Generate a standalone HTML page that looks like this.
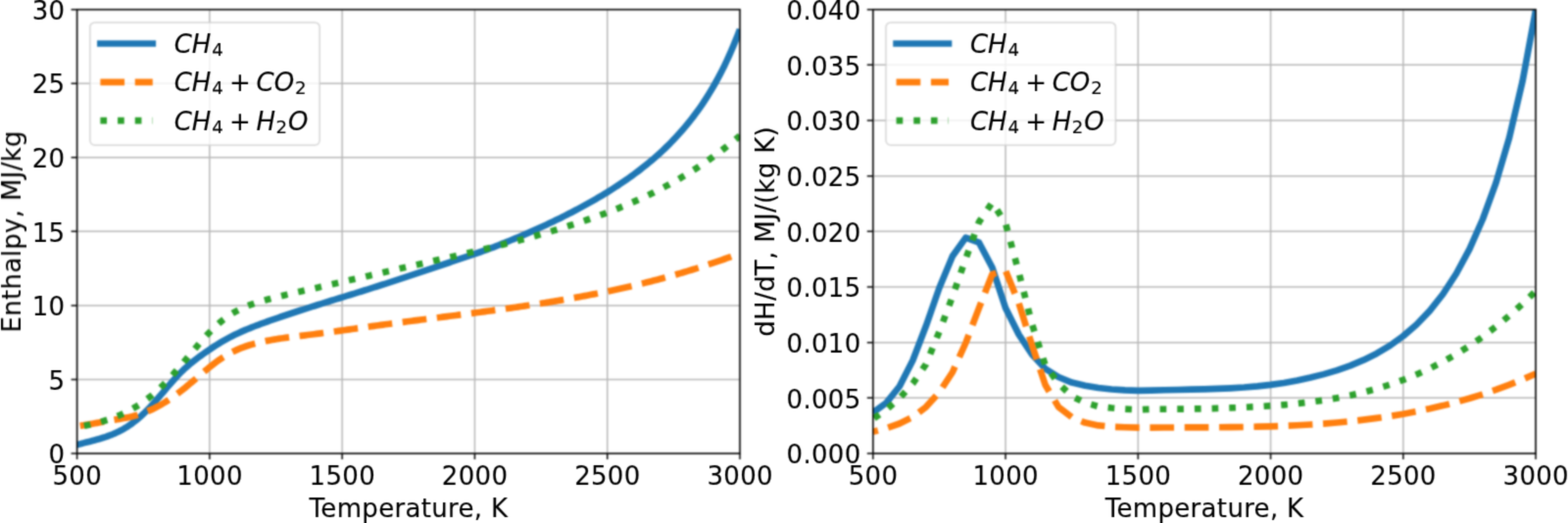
<!DOCTYPE html>
<html lang="en"><head><meta charset="utf-8"><title>Enthalpy and dH/dT versus temperature</title>
<style>
html,body{margin:0;padding:0;background:#fff;}
body{width:1600px;height:534px;overflow:hidden;}
svg{display:block;}
text{font-family:"DejaVu Sans","Liberation Sans",sans-serif;fill:#000;stroke:#000;stroke-width:0.1px;font-size:26.0px;letter-spacing:0.32px;}
.lg{font-style:italic;letter-spacing:0;}
</style></head><body>
<svg width="1600" height="534" viewBox="0 0 1600 534">
<defs>
<filter id="bl" x="0" y="0" width="1600" height="534" filterUnits="userSpaceOnUse" color-interpolation-filters="sRGB"><feConvolveMatrix order="5" kernelMatrix="0.00087 0.00695 0.01388 0.00695 0.00087 0.00695 0.05540 0.11068 0.05540 0.00695 0.01388 0.11068 0.22111 0.11068 0.01388 0.00695 0.05540 0.11068 0.05540 0.00695 0.00087 0.00695 0.01388 0.00695 0.00087" edgeMode="duplicate" preserveAlpha="true"/></filter>
<filter id="bt" x="0" y="0" width="1600" height="534" filterUnits="userSpaceOnUse" color-interpolation-filters="sRGB"><feConvolveMatrix order="3" kernelMatrix="0.02768 0.11101 0.02768 0.11101 0.44521 0.11101 0.02768 0.11101 0.02768" edgeMode="duplicate" preserveAlpha="false"/></filter>
</defs>
<rect width="1600" height="534" fill="#fff"/>
<g filter="url(#bl)">
<rect width="1600" height="534" fill="#fff"/>
<g>
<clipPath id="cp0"><rect x="78.6" y="9.7" width="676.40" height="453.30"/></clipPath>
<path d="M78.60,463.0 V9.7 M213.88,463.0 V9.7 M349.16,463.0 V9.7 M484.44,463.0 V9.7 M619.72,463.0 V9.7 M755.00,463.0 V9.7 M78.6,463.00 H755.0 M78.6,387.45 H755.0 M78.6,311.90 H755.0 M78.6,236.35 H755.0 M78.6,160.80 H755.0 M78.6,85.25 H755.0 M78.6,9.70 H755.0" stroke="#b8b8b8" stroke-width="1.5" fill="none"/>
<g clip-path="url(#cp0)" fill="none" stroke-width="6.67">
<path d="M78.40,454.24 L80.66,453.61 L82.93,453.00 L85.19,452.40 L87.45,451.82 L89.71,451.23 L91.98,450.65 L94.24,450.06 L96.50,449.45 L98.77,448.83 L101.03,448.18 L103.29,447.51 L105.55,446.80 L107.82,446.06 L110.08,445.27 L112.34,444.43 L114.61,443.54 L116.87,442.58 L119.13,441.57 L121.39,440.48 L123.66,439.32 L125.92,438.07 L128.18,436.74 L130.45,435.32 L132.71,433.81 L134.97,432.19 L137.23,430.47 L139.50,428.64 L141.76,426.70 L144.02,424.68 L146.29,422.56 L148.55,420.35 L150.81,418.06 L153.07,415.68 L155.34,413.23 L157.60,410.72 L159.86,408.15 L162.13,405.53 L164.39,402.89 L166.65,400.24 L168.92,397.58 L171.18,394.93 L173.44,392.30 L175.70,389.72 L177.97,387.18 L180.23,384.70 L182.49,382.30 L184.76,379.99 L187.02,377.78 L189.28,375.67 L191.54,373.66 L193.81,371.72 L196.07,369.86 L198.33,368.07 L200.60,366.33 L202.86,364.63 L205.12,362.97 L207.38,361.34 L209.65,359.74 L211.91,358.17 L214.17,356.64 L216.44,355.14 L218.70,353.67 L220.96,352.23 L223.22,350.84 L225.49,349.47 L227.75,348.15 L230.01,346.86 L232.28,345.61 L234.54,344.40 L236.80,343.23 L239.06,342.10 L241.33,341.00 L243.59,339.93 L245.85,338.90 L248.12,337.90 L250.38,336.92 L252.64,335.97 L254.90,335.05 L257.17,334.14 L259.43,333.26 L261.69,332.39 L263.96,331.54 L266.22,330.70 L268.48,329.87 L270.74,329.06 L273.01,328.25 L275.27,327.44 L277.53,326.65 L279.80,325.86 L282.06,325.07 L284.32,324.29 L286.58,323.52 L288.85,322.75 L291.11,321.99 L293.37,321.23 L295.64,320.48 L297.90,319.73 L300.16,318.99 L302.42,318.25 L304.69,317.51 L306.95,316.78 L309.21,316.05 L311.48,315.32 L313.74,314.60 L316.00,313.88 L318.26,313.16 L320.53,312.45 L322.79,311.74 L325.05,311.03 L327.32,310.32 L329.58,309.62 L331.84,308.91 L334.11,308.21 L336.37,307.51 L338.63,306.81 L340.89,306.11 L343.16,305.41 L345.42,304.71 L347.68,304.01 L349.95,303.32 L352.21,302.62 L354.47,301.92 L356.73,301.22 L359.00,300.52 L361.26,299.82 L363.52,299.12 L365.79,298.41 L368.05,297.71 L370.31,297.00 L372.57,296.30 L374.84,295.58 L377.10,294.87 L379.36,294.16 L381.63,293.44 L383.89,292.72 L386.15,292.00 L388.41,291.27 L390.68,290.55 L392.94,289.82 L395.20,289.08 L397.47,288.35 L399.73,287.62 L401.99,286.88 L404.25,286.14 L406.52,285.40 L408.78,284.66 L411.04,283.91 L413.31,283.16 L415.57,282.42 L417.83,281.67 L420.09,280.92 L422.36,280.16 L424.62,279.41 L426.88,278.65 L429.15,277.90 L431.41,277.14 L433.67,276.38 L435.93,275.62 L438.20,274.86 L440.46,274.10 L442.72,273.33 L444.99,272.57 L447.25,271.80 L449.51,271.04 L451.77,270.27 L454.04,269.50 L456.30,268.74 L458.56,267.97 L460.83,267.20 L463.09,266.43 L465.35,265.67 L467.61,264.90 L469.88,264.14 L472.14,263.38 L474.40,262.62 L476.67,261.86 L478.93,261.10 L481.19,260.34 L483.45,259.57 L485.72,258.80 L487.98,258.02 L490.24,257.23 L492.51,256.43 L494.77,255.62 L497.03,254.80 L499.29,253.96 L501.56,253.12 L503.82,252.26 L506.08,251.39 L508.35,250.50 L510.61,249.61 L512.87,248.71 L515.14,247.80 L517.40,246.89 L519.66,245.97 L521.92,245.04 L524.19,244.11 L526.45,243.17 L528.71,242.23 L530.98,241.27 L533.24,240.31 L535.50,239.33 L537.76,238.35 L540.03,237.37 L542.29,236.37 L544.55,235.37 L546.82,234.35 L549.08,233.33 L551.34,232.30 L553.60,231.27 L555.87,230.22 L558.13,229.16 L560.39,228.10 L562.66,227.03 L564.92,225.94 L567.18,224.85 L569.44,223.75 L571.71,222.64 L573.97,221.52 L576.23,220.38 L578.50,219.24 L580.76,218.09 L583.02,216.92 L585.28,215.75 L587.55,214.56 L589.81,213.36 L592.07,212.15 L594.34,210.93 L596.60,209.69 L598.86,208.44 L601.12,207.18 L603.39,205.91 L605.65,204.62 L607.91,203.31 L610.18,201.99 L612.44,200.65 L614.70,199.30 L616.96,197.93 L619.23,196.55 L621.49,195.14 L623.75,193.72 L626.02,192.28 L628.28,190.82 L630.54,189.34 L632.80,187.84 L635.07,186.32 L637.33,184.77 L639.59,183.20 L641.86,181.61 L644.12,179.99 L646.38,178.35 L648.64,176.67 L650.91,174.98 L653.17,173.25 L655.43,171.49 L657.70,169.70 L659.96,167.88 L662.22,166.02 L664.48,164.13 L666.75,162.20 L669.01,160.24 L671.27,158.23 L673.54,156.19 L675.80,154.10 L678.06,151.96 L680.33,149.78 L682.59,147.55 L684.85,145.27 L687.11,142.94 L689.38,140.55 L691.64,138.10 L693.90,135.60 L696.17,133.02 L698.43,130.39 L700.69,127.68 L702.95,124.91 L705.22,122.05 L707.48,119.12 L709.74,116.10 L712.01,113.00 L714.27,109.81 L716.53,106.52 L718.79,103.13 L721.06,99.63 L723.32,96.02 L725.58,92.30 L727.85,88.46 L730.11,84.48 L732.37,80.37 L734.63,76.12 L736.90,71.72 L739.16,67.15 L741.42,62.42 L743.69,57.52 L745.95,52.43 L748.21,47.14 L750.47,41.64 L752.74,35.92 L755.00,29.97" stroke="#1f77b4" stroke-linejoin="round"/>
<path d="M78.40,435.30 L80.66,434.97 L82.93,434.62 L85.19,434.26 L87.45,433.89 L89.71,433.50 L91.98,433.11 L94.24,432.71 L96.50,432.30 L98.77,431.89 L101.03,431.48 L103.29,431.07 L105.55,430.65 L107.82,430.24 L110.08,429.83 L112.34,429.43 L114.61,429.03 L116.87,428.64 L119.13,428.25 L121.39,427.87 L123.66,427.48 L125.92,427.07 L128.18,426.64 L130.45,426.19 L132.71,425.70 L134.97,425.17 L137.23,424.59 L139.50,423.96 L141.76,423.27 L144.02,422.52 L146.29,421.70 L148.55,420.83 L150.81,419.90 L153.07,418.90 L155.34,417.85 L157.60,416.75 L159.86,415.58 L162.13,414.36 L164.39,413.08 L166.65,411.75 L168.92,410.36 L171.18,408.92 L173.44,407.43 L175.70,405.88 L177.97,404.28 L180.23,402.63 L182.49,400.93 L184.76,399.18 L187.02,397.39 L189.28,395.56 L191.54,393.70 L193.81,391.81 L196.07,389.91 L198.33,387.99 L200.60,386.06 L202.86,384.14 L205.12,382.22 L207.38,380.30 L209.65,378.41 L211.91,376.54 L214.17,374.70 L216.44,372.90 L218.70,371.14 L220.96,369.44 L223.22,367.80 L225.49,366.23 L227.75,364.73 L230.01,363.31 L232.28,361.98 L234.54,360.72 L236.80,359.53 L239.06,358.41 L241.33,357.36 L243.59,356.37 L245.85,355.45 L248.12,354.58 L250.38,353.76 L252.64,353.00 L254.90,352.28 L257.17,351.61 L259.43,350.98 L261.69,350.39 L263.96,349.83 L266.22,349.30 L268.48,348.80 L270.74,348.33 L273.01,347.88 L275.27,347.45 L277.53,347.04 L279.80,346.65 L282.06,346.27 L284.32,345.91 L286.58,345.56 L288.85,345.23 L291.11,344.90 L293.37,344.59 L295.64,344.29 L297.90,343.99 L300.16,343.71 L302.42,343.42 L304.69,343.14 L306.95,342.87 L309.21,342.59 L311.48,342.32 L313.74,342.05 L316.00,341.77 L318.26,341.49 L320.53,341.20 L322.79,340.92 L325.05,340.63 L327.32,340.33 L329.58,340.04 L331.84,339.74 L334.11,339.44 L336.37,339.13 L338.63,338.83 L340.89,338.52 L343.16,338.21 L345.42,337.90 L347.68,337.59 L349.95,337.28 L352.21,336.96 L354.47,336.65 L356.73,336.33 L359.00,336.01 L361.26,335.69 L363.52,335.38 L365.79,335.06 L368.05,334.74 L370.31,334.42 L372.57,334.11 L374.84,333.79 L377.10,333.47 L379.36,333.16 L381.63,332.85 L383.89,332.53 L386.15,332.22 L388.41,331.91 L390.68,331.60 L392.94,331.30 L395.20,330.99 L397.47,330.69 L399.73,330.39 L401.99,330.09 L404.25,329.79 L406.52,329.49 L408.78,329.19 L411.04,328.90 L413.31,328.60 L415.57,328.31 L417.83,328.01 L420.09,327.72 L422.36,327.43 L424.62,327.14 L426.88,326.85 L429.15,326.56 L431.41,326.27 L433.67,325.98 L435.93,325.69 L438.20,325.40 L440.46,325.12 L442.72,324.83 L444.99,324.54 L447.25,324.25 L449.51,323.97 L451.77,323.68 L454.04,323.39 L456.30,323.10 L458.56,322.81 L460.83,322.52 L463.09,322.24 L465.35,321.95 L467.61,321.66 L469.88,321.36 L472.14,321.07 L474.40,320.78 L476.67,320.49 L478.93,320.19 L481.19,319.90 L483.45,319.60 L485.72,319.31 L487.98,319.01 L490.24,318.71 L492.51,318.41 L494.77,318.11 L497.03,317.80 L499.29,317.50 L501.56,317.19 L503.82,316.88 L506.08,316.57 L508.35,316.26 L510.61,315.95 L512.87,315.64 L515.14,315.32 L517.40,315.00 L519.66,314.68 L521.92,314.36 L524.19,314.03 L526.45,313.71 L528.71,313.38 L530.98,313.04 L533.24,312.71 L535.50,312.37 L537.76,312.03 L540.03,311.69 L542.29,311.35 L544.55,311.00 L546.82,310.65 L549.08,310.30 L551.34,309.94 L553.60,309.58 L555.87,309.22 L558.13,308.86 L560.39,308.49 L562.66,308.12 L564.92,307.74 L567.18,307.37 L569.44,306.99 L571.71,306.60 L573.97,306.21 L576.23,305.82 L578.50,305.43 L580.76,305.03 L583.02,304.63 L585.28,304.22 L587.55,303.81 L589.81,303.40 L592.07,302.98 L594.34,302.56 L596.60,302.13 L598.86,301.70 L601.12,301.27 L603.39,300.83 L605.65,300.39 L607.91,299.94 L610.18,299.49 L612.44,299.03 L614.70,298.57 L616.96,298.11 L619.23,297.64 L621.49,297.16 L623.75,296.68 L626.02,296.20 L628.28,295.71 L630.54,295.21 L632.80,294.72 L635.07,294.21 L637.33,293.70 L639.59,293.19 L641.86,292.67 L644.12,292.14 L646.38,291.61 L648.64,291.08 L650.91,290.54 L653.17,289.99 L655.43,289.44 L657.70,288.88 L659.96,288.31 L662.22,287.74 L664.48,287.17 L666.75,286.59 L669.01,286.00 L671.27,285.41 L673.54,284.81 L675.80,284.20 L678.06,283.59 L680.33,282.97 L682.59,282.35 L684.85,281.71 L687.11,281.08 L689.38,280.43 L691.64,279.78 L693.90,279.13 L696.17,278.46 L698.43,277.79 L700.69,277.11 L702.95,276.43 L705.22,275.74 L707.48,275.04 L709.74,274.34 L712.01,273.62 L714.27,272.90 L716.53,272.18 L718.79,271.44 L721.06,270.70 L723.32,269.95 L725.58,269.20 L727.85,268.43 L730.11,267.66 L732.37,266.88 L734.63,266.10 L736.90,265.30 L739.16,264.50 L741.42,263.69 L743.69,262.87 L745.95,262.05 L748.21,261.21 L750.47,260.37 L752.74,259.52 L755.00,258.66" stroke="#ff7f0e" stroke-linejoin="round" stroke-dasharray="24.68 10.67" stroke-dashoffset="32.0"/>
<path d="M78.40,436.14 L80.66,435.73 L82.93,435.32 L85.19,434.88 L87.45,434.43 L89.71,433.96 L91.98,433.47 L94.24,432.95 L96.50,432.41 L98.77,431.83 L101.03,431.23 L103.29,430.60 L105.55,429.94 L107.82,429.24 L110.08,428.51 L112.34,427.73 L114.61,426.92 L116.87,426.07 L119.13,425.17 L121.39,424.22 L123.66,423.23 L125.92,422.19 L128.18,421.10 L130.45,419.96 L132.71,418.76 L134.97,417.51 L137.23,416.20 L139.50,414.82 L141.76,413.39 L144.02,411.89 L146.29,410.33 L148.55,408.70 L150.81,407.00 L153.07,405.24 L155.34,403.39 L157.60,401.48 L159.86,399.49 L162.13,397.42 L164.39,395.27 L166.65,393.04 L168.92,390.73 L171.18,388.35 L173.44,385.90 L175.70,383.39 L177.97,380.83 L180.23,378.23 L182.49,375.60 L184.76,372.93 L187.02,370.24 L189.28,367.54 L191.54,364.83 L193.81,362.12 L196.07,359.42 L198.33,356.74 L200.60,354.07 L202.86,351.44 L205.12,348.84 L207.38,346.29 L209.65,343.79 L211.91,341.34 L214.17,338.97 L216.44,336.67 L218.70,334.45 L220.96,332.31 L223.22,330.27 L225.49,328.34 L227.75,326.51 L230.01,324.79 L232.28,323.17 L234.54,321.65 L236.80,320.21 L239.06,318.87 L241.33,317.60 L243.59,316.42 L245.85,315.30 L248.12,314.25 L250.38,313.27 L252.64,312.34 L254.90,311.46 L257.17,310.64 L259.43,309.85 L261.69,309.11 L263.96,308.40 L266.22,307.72 L268.48,307.06 L270.74,306.42 L273.01,305.80 L275.27,305.19 L277.53,304.59 L279.80,304.00 L282.06,303.42 L284.32,302.84 L286.58,302.28 L288.85,301.72 L291.11,301.17 L293.37,300.62 L295.64,300.09 L297.90,299.55 L300.16,299.02 L302.42,298.50 L304.69,297.98 L306.95,297.46 L309.21,296.95 L311.48,296.43 L313.74,295.92 L316.00,295.41 L318.26,294.90 L320.53,294.40 L322.79,293.89 L325.05,293.38 L327.32,292.86 L329.58,292.35 L331.84,291.84 L334.11,291.32 L336.37,290.81 L338.63,290.29 L340.89,289.77 L343.16,289.25 L345.42,288.73 L347.68,288.21 L349.95,287.69 L352.21,287.17 L354.47,286.64 L356.73,286.12 L359.00,285.60 L361.26,285.07 L363.52,284.55 L365.79,284.02 L368.05,283.50 L370.31,282.97 L372.57,282.45 L374.84,281.92 L377.10,281.40 L379.36,280.87 L381.63,280.35 L383.89,279.82 L386.15,279.30 L388.41,278.77 L390.68,278.25 L392.94,277.72 L395.20,277.20 L397.47,276.68 L399.73,276.16 L401.99,275.63 L404.25,275.11 L406.52,274.59 L408.78,274.07 L411.04,273.56 L413.31,273.04 L415.57,272.52 L417.83,272.01 L420.09,271.49 L422.36,270.98 L424.62,270.47 L426.88,269.95 L429.15,269.44 L431.41,268.93 L433.67,268.41 L435.93,267.90 L438.20,267.39 L440.46,266.88 L442.72,266.36 L444.99,265.85 L447.25,265.33 L449.51,264.82 L451.77,264.30 L454.04,263.79 L456.30,263.27 L458.56,262.75 L460.83,262.23 L463.09,261.71 L465.35,261.19 L467.61,260.67 L469.88,260.14 L472.14,259.62 L474.40,259.09 L476.67,258.56 L478.93,258.03 L481.19,257.49 L483.45,256.96 L485.72,256.42 L487.98,255.88 L490.24,255.34 L492.51,254.79 L494.77,254.24 L497.03,253.69 L499.29,253.14 L501.56,252.58 L503.82,252.02 L506.08,251.46 L508.35,250.90 L510.61,250.33 L512.87,249.75 L515.14,249.18 L517.40,248.60 L519.66,248.02 L521.92,247.43 L524.19,246.84 L526.45,246.24 L528.71,245.65 L530.98,245.04 L533.24,244.44 L535.50,243.82 L537.76,243.21 L540.03,242.59 L542.29,241.96 L544.55,241.33 L546.82,240.70 L549.08,240.06 L551.34,239.41 L553.60,238.76 L555.87,238.11 L558.13,237.45 L560.39,236.78 L562.66,236.11 L564.92,235.43 L567.18,234.75 L569.44,234.06 L571.71,233.36 L573.97,232.66 L576.23,231.95 L578.50,231.24 L580.76,230.52 L583.02,229.79 L585.28,229.06 L587.55,228.32 L589.81,227.57 L592.07,226.82 L594.34,226.06 L596.60,225.29 L598.86,224.52 L601.12,223.74 L603.39,222.95 L605.65,222.15 L607.91,221.35 L610.18,220.53 L612.44,219.71 L614.70,218.88 L616.96,218.04 L619.23,217.19 L621.49,216.33 L623.75,215.46 L626.02,214.58 L628.28,213.69 L630.54,212.79 L632.80,211.88 L635.07,210.95 L637.33,210.02 L639.59,209.07 L641.86,208.11 L644.12,207.14 L646.38,206.15 L648.64,205.16 L650.91,204.15 L653.17,203.12 L655.43,202.08 L657.70,201.03 L659.96,199.97 L662.22,198.89 L664.48,197.79 L666.75,196.68 L669.01,195.55 L671.27,194.41 L673.54,193.25 L675.80,192.08 L678.06,190.89 L680.33,189.68 L682.59,188.45 L684.85,187.21 L687.11,185.95 L689.38,184.67 L691.64,183.38 L693.90,182.07 L696.17,180.73 L698.43,179.38 L700.69,178.01 L702.95,176.62 L705.22,175.21 L707.48,173.78 L709.74,172.33 L712.01,170.86 L714.27,169.36 L716.53,167.85 L718.79,166.32 L721.06,164.76 L723.32,163.18 L725.58,161.58 L727.85,159.96 L730.11,158.31 L732.37,156.64 L734.63,154.95 L736.90,153.23 L739.16,151.49 L741.42,149.73 L743.69,147.94 L745.95,146.13 L748.21,144.29 L750.47,142.43 L752.74,140.54 L755.00,138.63" stroke="#2ca02c" stroke-linejoin="round" stroke-dasharray="6.67 11.01" stroke-dashoffset="10.1"/>
</g>
<path d="M78.60,463.0 v6.0 M213.88,463.0 v6.0 M349.16,463.0 v6.0 M484.44,463.0 v6.0 M619.72,463.0 v6.0 M755.00,463.0 v6.0 M78.6,463.00 h-6.0 M78.6,387.45 h-6.0 M78.6,311.90 h-6.0 M78.6,236.35 h-6.0 M78.6,160.80 h-6.0 M78.6,85.25 h-6.0 M78.6,9.70 h-6.0" stroke="#000" stroke-width="1.5" fill="none"/>
<rect x="78.6" y="9.7" width="676.40" height="453.30" fill="none" stroke="#000" stroke-width="1.5"/>
<rect x="91.8" y="22.9" width="234.4" height="125.3" rx="5" ry="5" fill="#fff" fill-opacity="0.8" stroke="#ccc" stroke-opacity="0.8" stroke-width="1.5"/>
<g fill="none" stroke-width="6.67"><path d="M102.40,44.50 L155.80,44.50" stroke="#1f77b4" stroke-linejoin="round" stroke-linecap="square"/></g>
<g fill="none" stroke-width="6.67"><path d="M102.40,83.80 L155.80,83.80" stroke="#ff7f0e" stroke-linejoin="round" stroke-dasharray="24.68 10.67" stroke-dashoffset="0"/></g>
<g fill="none" stroke-width="6.67"><path d="M102.40,123.20 L155.80,123.20" stroke="#2ca02c" stroke-linejoin="round" stroke-dasharray="6.67 11.01" stroke-dashoffset="0"/></g>
</g>
<g>
<clipPath id="cp1"><rect x="890.8" y="9.7" width="676.30" height="453.30"/></clipPath>
<path d="M890.80,463.0 V9.7 M1026.06,463.0 V9.7 M1161.32,463.0 V9.7 M1296.58,463.0 V9.7 M1431.84,463.0 V9.7 M1567.10,463.0 V9.7 M890.8,463.00 H1567.1 M890.8,406.34 H1567.1 M890.8,349.68 H1567.1 M890.8,293.01 H1567.1 M890.8,236.35 H1567.1 M890.8,179.69 H1567.1 M890.8,123.02 H1567.1 M890.8,66.36 H1567.1 M890.8,9.70 H1567.1" stroke="#b8b8b8" stroke-width="1.5" fill="none"/>
<g clip-path="url(#cp1)" fill="none" stroke-width="6.67">
<path d="M890.80,421.30 L904.33,411.40 L917.85,394.50 L931.38,368.00 L944.90,332.80 L958.43,294.00 L971.96,261.50 L985.48,242.60 L999.01,247.70 L1012.53,273.20 L1026.06,314.50 L1039.59,341.50 L1053.11,362.00 L1066.64,376.50 L1080.16,385.00 L1093.69,390.60 L1107.22,393.70 L1120.74,396.00 L1134.27,397.50 L1147.79,398.40 L1161.32,398.80 L1174.85,398.67 L1188.37,398.27 L1201.90,397.97 L1215.42,397.69 L1228.95,397.37 L1242.48,396.95 L1256.00,396.36 L1269.53,395.54 L1283.05,394.42 L1296.58,392.91 L1310.11,390.96 L1323.63,388.52 L1337.16,385.59 L1350.68,382.14 L1364.21,378.11 L1377.74,373.35 L1391.26,367.68 L1404.79,360.93 L1418.31,352.84 L1431.84,343.14 L1445.37,331.46 L1458.89,317.35 L1472.42,300.25 L1485.94,279.49 L1499.47,254.30 L1513.00,223.75 L1526.52,186.59 L1540.05,140.72 L1553.57,83.10 L1567.10,10.39" stroke="#1f77b4" stroke-linejoin="round"/>
<path d="M890.80,440.90 L904.33,437.20 L917.85,432.50 L931.38,425.90 L944.90,415.60 L958.43,400.60 L971.96,380.00 L985.48,350.00 L999.01,314.40 L1012.53,280.00 L1026.06,276.20 L1039.59,309.50 L1053.11,352.50 L1066.64,393.00 L1080.16,415.60 L1093.69,425.90 L1107.22,431.60 L1120.74,434.40 L1134.27,435.70 L1147.79,436.25 L1161.32,436.60 L1174.85,436.63 L1188.37,436.54 L1201.90,436.48 L1215.42,436.43 L1228.95,436.36 L1242.48,436.27 L1256.00,436.14 L1269.53,435.95 L1283.05,435.68 L1296.58,435.31 L1310.11,434.84 L1323.63,434.23 L1337.16,433.48 L1350.68,432.56 L1364.21,431.46 L1377.74,430.17 L1391.26,428.66 L1404.79,426.92 L1418.31,424.92 L1431.84,422.67 L1445.37,420.12 L1458.89,417.28 L1472.42,414.12 L1485.94,410.62 L1499.47,406.77 L1513.00,402.55 L1526.52,397.94 L1540.05,392.93 L1553.57,387.49 L1567.10,381.62" stroke="#ff7f0e" stroke-linejoin="round" stroke-dasharray="24.68 10.67" stroke-dashoffset="19.4"/>
<path d="M890.80,427.80 L904.33,418.40 L917.85,406.60 L931.38,391.60 L944.90,371.90 L958.43,338.75 L971.96,302.60 L985.48,264.10 L999.01,226.60 L1012.53,206.80 L1026.06,228.00 L1039.59,278.00 L1053.11,331.00 L1066.64,373.00 L1080.16,391.60 L1093.69,404.50 L1107.22,411.20 L1120.74,415.00 L1134.27,416.50 L1147.79,417.60 L1161.32,418.30 L1174.85,417.71 L1188.37,417.73 L1201.90,417.66 L1215.42,417.50 L1228.95,417.25 L1242.48,416.90 L1256.00,416.44 L1269.53,415.87 L1283.05,415.18 L1296.58,414.35 L1310.11,413.32 L1323.63,412.06 L1337.16,410.51 L1350.68,408.64 L1364.21,406.39 L1377.74,403.72 L1391.26,400.58 L1404.79,396.93 L1418.31,392.72 L1431.84,387.91 L1445.37,382.44 L1458.89,376.28 L1472.42,369.38 L1485.94,361.68 L1499.47,353.15 L1513.00,343.76 L1526.52,333.47 L1540.05,322.29 L1553.57,310.20 L1567.10,297.18" stroke="#2ca02c" stroke-linejoin="round" stroke-dasharray="6.67 11.01" stroke-dashoffset="16.3"/>
</g>
<path d="M890.80,463.0 v6.0 M1026.06,463.0 v6.0 M1161.32,463.0 v6.0 M1296.58,463.0 v6.0 M1431.84,463.0 v6.0 M1567.10,463.0 v6.0 M890.8,463.00 h-6.0 M890.8,406.34 h-6.0 M890.8,349.68 h-6.0 M890.8,293.01 h-6.0 M890.8,236.35 h-6.0 M890.8,179.69 h-6.0 M890.8,123.02 h-6.0 M890.8,66.36 h-6.0 M890.8,9.70 h-6.0" stroke="#000" stroke-width="1.5" fill="none"/>
<rect x="890.8" y="9.7" width="676.30" height="453.30" fill="none" stroke="#000" stroke-width="1.5"/>
<rect x="904.0" y="22.9" width="234.4" height="125.3" rx="5" ry="5" fill="#fff" fill-opacity="0.8" stroke="#ccc" stroke-opacity="0.8" stroke-width="1.5"/>
<g fill="none" stroke-width="6.67"><path d="M914.60,44.50 L968.00,44.50" stroke="#1f77b4" stroke-linejoin="round" stroke-linecap="square"/></g>
<g fill="none" stroke-width="6.67"><path d="M914.60,83.80 L968.00,83.80" stroke="#ff7f0e" stroke-linejoin="round" stroke-dasharray="24.68 10.67" stroke-dashoffset="0"/></g>
<g fill="none" stroke-width="6.67"><path d="M914.60,123.20 L968.00,123.20" stroke="#2ca02c" stroke-linejoin="round" stroke-dasharray="6.67 11.01" stroke-dashoffset="0"/></g>
</g>
</g>
<g filter="url(#bt)">
<text x="78.76" y="494.7" text-anchor="middle">500</text>
<text x="214.04" y="494.7" text-anchor="middle">1000</text>
<text x="349.32" y="494.7" text-anchor="middle">1500</text>
<text x="484.60" y="494.7" text-anchor="middle">2000</text>
<text x="619.88" y="494.7" text-anchor="middle">2500</text>
<text x="755.16" y="494.7" text-anchor="middle">3000</text>
<text x="66.42" y="473.20" text-anchor="end">0</text>
<text x="66.42" y="397.65" text-anchor="end">5</text>
<text x="66.42" y="322.10" text-anchor="end">10</text>
<text x="66.42" y="246.55" text-anchor="end">15</text>
<text x="66.42" y="171.00" text-anchor="end">20</text>
<text x="66.42" y="95.45" text-anchor="end">25</text>
<text x="66.42" y="19.90" text-anchor="end">30</text>
<text x="416.96" y="527.6" text-anchor="middle">Temperature, K</text>
<text transform="translate(21.0,236.35) rotate(-90)" text-anchor="middle">Enthalpy, MJ/kg</text>
<text class="lg"><tspan x="177.70" y="53.80">CH</tspan><tspan x="216.28" y="57.00" font-style="normal" font-size="18.20px">4</tspan></text>
<text class="lg"><tspan x="177.70" y="93.10">CH</tspan><tspan x="216.28" y="96.30" font-style="normal" font-size="18.20px">4</tspan><tspan x="234.02" y="93.10" font-style="normal">+</tspan><tspan x="261.49" y="93.10">CO</tspan><tspan x="301.01" y="96.30" font-style="normal" font-size="18.20px">2</tspan></text>
<text class="lg"><tspan x="177.70" y="132.50">CH</tspan><tspan x="216.28" y="135.70" font-style="normal" font-size="18.20px">4</tspan><tspan x="234.02" y="132.50" font-style="normal">+</tspan><tspan x="261.49" y="132.50">H</tspan><tspan x="281.50" y="135.70" font-style="normal" font-size="18.20px">2</tspan><tspan x="294.06" y="132.50">O</tspan></text>
<text x="890.96" y="494.7" text-anchor="middle">500</text>
<text x="1026.22" y="494.7" text-anchor="middle">1000</text>
<text x="1161.48" y="494.7" text-anchor="middle">1500</text>
<text x="1296.74" y="494.7" text-anchor="middle">2000</text>
<text x="1432.00" y="494.7" text-anchor="middle">2500</text>
<text x="1567.26" y="494.7" text-anchor="middle">3000</text>
<text x="878.62" y="473.20" text-anchor="end">0.000</text>
<text x="878.62" y="416.54" text-anchor="end">0.005</text>
<text x="878.62" y="359.88" text-anchor="end">0.010</text>
<text x="878.62" y="303.21" text-anchor="end">0.015</text>
<text x="878.62" y="246.55" text-anchor="end">0.020</text>
<text x="878.62" y="189.89" text-anchor="end">0.025</text>
<text x="878.62" y="133.22" text-anchor="end">0.030</text>
<text x="878.62" y="76.56" text-anchor="end">0.035</text>
<text x="878.62" y="19.90" text-anchor="end">0.040</text>
<text x="1229.11" y="527.6" text-anchor="middle">Temperature, K</text>
<text transform="translate(789.5,236.35) rotate(-90)" text-anchor="middle">dH/dT, MJ/(kg K)</text>
<text class="lg"><tspan x="989.90" y="53.80">CH</tspan><tspan x="1028.48" y="57.00" font-style="normal" font-size="18.20px">4</tspan></text>
<text class="lg"><tspan x="989.90" y="93.10">CH</tspan><tspan x="1028.48" y="96.30" font-style="normal" font-size="18.20px">4</tspan><tspan x="1046.22" y="93.10" font-style="normal">+</tspan><tspan x="1073.69" y="93.10">CO</tspan><tspan x="1113.21" y="96.30" font-style="normal" font-size="18.20px">2</tspan></text>
<text class="lg"><tspan x="989.90" y="132.50">CH</tspan><tspan x="1028.48" y="135.70" font-style="normal" font-size="18.20px">4</tspan><tspan x="1046.22" y="132.50" font-style="normal">+</tspan><tspan x="1073.69" y="132.50">H</tspan><tspan x="1093.70" y="135.70" font-style="normal" font-size="18.20px">2</tspan><tspan x="1106.26" y="132.50">O</tspan></text>
</g></svg></body></html>
